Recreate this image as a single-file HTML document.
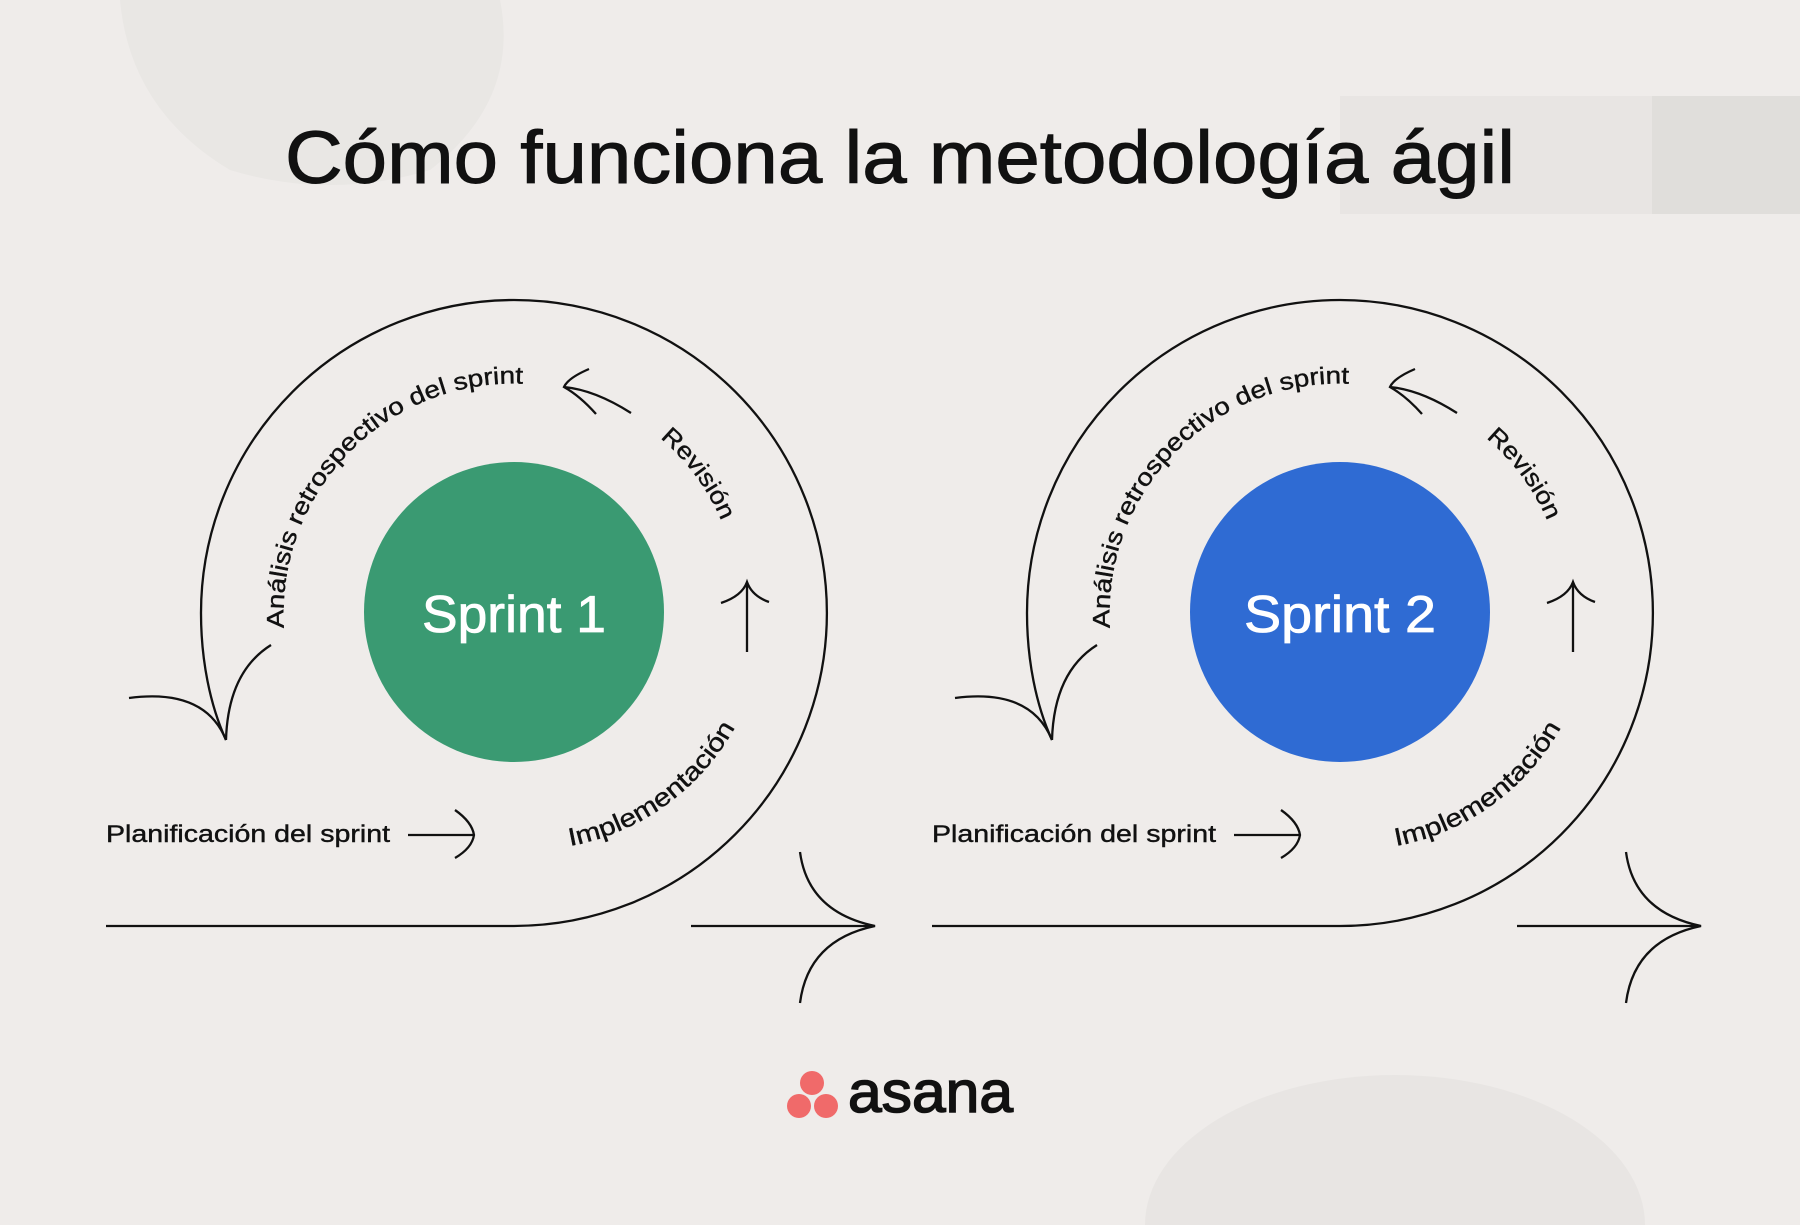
<!DOCTYPE html>
<html><head><meta charset="utf-8"><style>
html,body{margin:0;padding:0;background:#efecea;width:1800px;height:1225px;overflow:hidden;}
svg{display:block;}
text{font-family:"Liberation Sans",sans-serif;fill:#111;}
.lab{stroke:#111;stroke-width:0.4px;}
</style></head><body>
<svg width="1800" height="1225" viewBox="0 0 1800 1225" xmlns="http://www.w3.org/2000/svg">
<defs>
<g id="sprint">
  <path d="M106,926 L514,926 A313,313 0 0 0 514,300 A313,313 0 0 0 201,613 C201,660 210,705 226,740" fill="none" stroke="#111" stroke-width="2.3"/>
  <path d="M129,698 Q205,688 226,740 M271,645 Q228,672 226,740" fill="none" stroke="#111" stroke-width="2.3"/>
  <path d="M631,413 Q595,390 564,387 M589,369 Q568,378 564,387 Q580,396 596,414" fill="none" stroke="#111" stroke-width="2.3"/>
  <path d="M747,652 L747,582 M721,603 Q742,596 747,582 Q752,596 769,602" fill="none" stroke="#111" stroke-width="2.3"/>
  <path d="M408,835 L474,835 M455,810 Q472,822 474,835 Q472,848 455,858" fill="none" stroke="#111" stroke-width="2.3"/>
  <path d="M691,926 L875,926 M800,852 Q808,912 875,926 Q808,940 800,1003" fill="none" stroke="#111" stroke-width="2.3"/>
  <path id="pa" d="M284,628 A230,230 0 0 1 540,385" fill="none"/>
  <path id="pr" d="M660,438 A222,222 0 0 1 732,552" fill="none"/>
  <path id="pi" d="M570,846 A238,238 0 0 0 748,700" fill="none"/>
</g>
</defs>
<path d="M120,0 L500,0 Q520,100 430,170 Q330,200 230,170 Q130,110 120,0Z" fill="#dcdad7" opacity="0.3"/>
<rect x="1340" y="96" width="460" height="118" fill="#e0dedb" opacity="0.45"/>
<rect x="1652" y="96" width="148" height="118" fill="#d6d4d1" opacity="0.45"/>
<path d="M1145,1225 A250,150 0 0 1 1645,1225 Z" fill="#dddbd8" opacity="0.35"/>

<text x="900" y="183" text-anchor="middle" font-size="74" textLength="1230" lengthAdjust="spacingAndGlyphs" class="lab" style="stroke-width:1px">Cómo funciona la metodología ágil</text>

<use href="#sprint"/>
<circle cx="514" cy="612" r="150" fill="#3a9a72"/>
<text x="514" y="632" text-anchor="middle" font-size="52" style="fill:#fff;stroke:#fff;stroke-width:0.8px" textLength="184" lengthAdjust="spacingAndGlyphs">Sprint 1</text>
<text x="106" y="842" font-size="24" class="lab" textLength="284" lengthAdjust="spacingAndGlyphs">Planificación del sprint</text>
<text font-size="24" class="lab"><textPath href="#pa" textLength="385" lengthAdjust="spacingAndGlyphs">Análisis retrospectivo del sprint</textPath></text>
<text font-size="24" class="lab"><textPath href="#pr" textLength="104" lengthAdjust="spacingAndGlyphs">Revisión</textPath></text>
<text font-size="25" class="lab"><textPath href="#pi" textLength="210" lengthAdjust="spacingAndGlyphs">Implementación</textPath></text>

<g transform="translate(826,0)">
<use href="#sprint"/>
<circle cx="514" cy="612" r="150" fill="#2f6bd3"/>
<text x="514" y="632" text-anchor="middle" font-size="52" style="fill:#fff;stroke:#fff;stroke-width:0.8px" textLength="192" lengthAdjust="spacingAndGlyphs">Sprint 2</text>
<text x="106" y="842" font-size="24" class="lab" textLength="284" lengthAdjust="spacingAndGlyphs">Planificación del sprint</text>
<text font-size="24" class="lab"><textPath href="#pa" textLength="385" lengthAdjust="spacingAndGlyphs">Análisis retrospectivo del sprint</textPath></text>
<text font-size="24" class="lab"><textPath href="#pr" textLength="104" lengthAdjust="spacingAndGlyphs">Revisión</textPath></text>
<text font-size="25" class="lab"><textPath href="#pi" textLength="210" lengthAdjust="spacingAndGlyphs">Implementación</textPath></text>
</g>

<circle cx="812" cy="1083" r="12" fill="#f06a6a"/>
<circle cx="799" cy="1106" r="12" fill="#f06a6a"/>
<circle cx="826" cy="1106" r="12" fill="#f06a6a"/>
<text x="848" y="1112" font-size="58" textLength="165" lengthAdjust="spacingAndGlyphs" style="stroke:#111;stroke-width:1.5px">asana</text>
</svg>
</body></html>
